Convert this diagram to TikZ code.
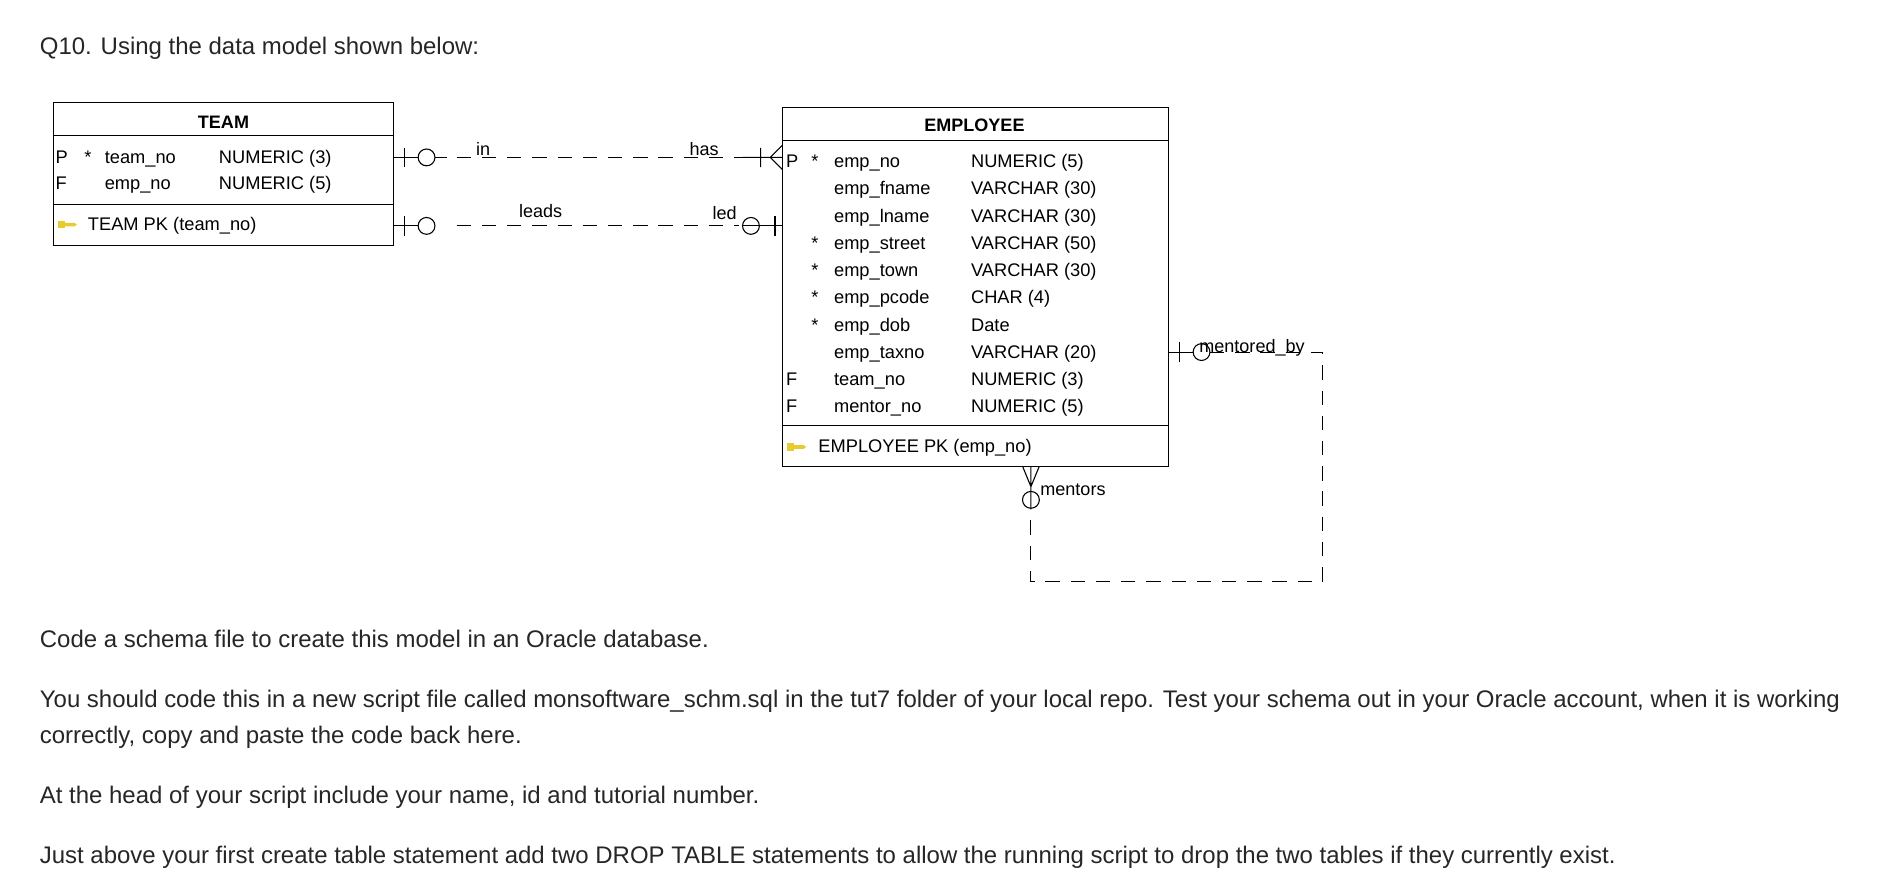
\documentclass[tikz,border=0pt]{standalone}
\usepackage{fontspec}
\setmainfont{Liberation Sans}
\begin{document}
\begin{tikzpicture}[x=1pt,y=-1pt,
  every node/.style={inner sep=0pt},
  body/.style={anchor=base west,font=\fontsize{19.95}{22}\selectfont,text=black!85},
  cell/.style={anchor=base west,font=\fontsize{15.2}{18}\selectfont},
  head/.style={anchor=center,font=\bfseries\fontsize{15}{18}\selectfont},
  tbl/.style={draw,line width=1pt},
  rel/.style={line width=0.9pt,dash pattern=on 12pt off 9pt},
  sym/.style={line width=0.9pt},
  lbl/.style={font=\fontsize{15}{18}\selectfont},
  keyicon/.pic={\fill[yellow!60!brown] (0,-3) rectangle (6,3); \fill[yellow!60!brown] (6,-1.5) -- (14,-1.5) -- (16,0) -- (14,1.5) -- (6,1.5) -- cycle;}
]
\useasboundingbox (0,0) rectangle (1568,739);
\node[body] (q) at (33,45) {Q10. Using the data model shown below:};
% TEAM
\node[tbl,minimum width=283pt,minimum height=119pt,anchor=north west] (team) at (44,85) {};
\draw[line width=1pt] (44,113) -- (327,113) (44,170) -- (327,170);
\node[head] (teamh) at (186,102) {TEAM};
\foreach \y/\k/\s/\n/\t in {131/P/*/team\_no/NUMERIC (3),153/F//emp\_no/NUMERIC (5)}{
  \node[cell] at (46,\y+5) {\k}; \node[cell] at (70,\y+5) {\s};
  \node[cell] at (87,\y+5) {\n}; \node[cell] at (182,\y+5) {\t};}
\pic at (48,187) {keyicon};
\node[cell] (teampk) at (73,192) {TEAM PK (team\_no)};
% EMPLOYEE
\node[tbl,minimum width=321pt,minimum height=299pt,anchor=north west] (emp) at (651,89) {};
\draw[line width=1pt] (651,117) -- (972,117) (651,354) -- (972,354);
\node[head] (emph) at (811,104) {EMPLOYEE};
\foreach \y/\k/\s/\n/\t in {134/P/*/emp\_no/NUMERIC (5),157///emp\_fname/VARCHAR (30),180///emp\_lname/VARCHAR (30),203//*/emp\_street/VARCHAR (50),225//*/emp\_town/VARCHAR (30),248//*/emp\_pcode/CHAR (4),271//*/emp\_dob/Date,293///emp\_taxno/VARCHAR (20),316/F//team\_no/NUMERIC (3),338/F//mentor\_no/NUMERIC (5)}{
  \node[cell] at (654,\y+5) {\k}; \node[cell] at (675,\y+5) {\s};
  \node[cell] at (694,\y+5) {\n}; \node[cell] at (808,\y+5) {\t};}
\pic at (655,372) {keyicon};
\node[cell] (emppk) at (681,377) {EMPLOYEE PK (emp\_no)};
% in / has
\coordinate (a1) at (327,131); \coordinate (b1) at (651,131);
\draw[sym] (a1) -- (348,131) (337,123) -- (337,139);
\draw[sym] (355,131) circle (7);
\draw[sym] (362,131) -- (372,131);
\draw[rel] (380,131) -- (630,131);
\draw[sym] (618,131) -- (651,131) (633,123) -- (633,139) (651,121) -- (641,131) -- (651,141);
\node[lbl,anchor=base] at (402,129) {in};
\node[lbl,anchor=base] at (586,129) {has};
% leads / led
\coordinate (a2) at (327,188);
\draw[sym] (a2) -- (348,188) (337,180) -- (337,196);
\draw[sym] (355,188) circle (7);
\draw[rel] (380,188) -- (615,188);
\draw[sym] (625,188) circle (7);
\draw[sym] (618,188) -- (651,188) (645,180) -- (645,196);
\node[lbl,anchor=base] at (450,181) {leads};
\node[lbl,anchor=base] at (603,183) {led};
% mentored_by / mentors
\draw[sym] (972,293) -- (993,293) (982,285) -- (982,301);
\draw[sym] (1000,293) circle (7);
\draw[rel] (1007,293) -- (1101,293) -- (1101,484) -- (858,484) -- (858,430);
\draw[sym] (851,388) -- (858,405) -- (865,388) (858,388) -- (858,424);
\draw[sym] (858,416) circle (7);
\node[lbl,anchor=base] at (1042,293) {mentored\_by};
\node[lbl,anchor=base] at (893,412) {mentors};
% body text
\node[body] at (33,539) {Code a schema file to create this model in an Oracle database.};
\node[body] at (33,589) {You should code this in a new script file called monsoftware\_schm.sql in the tut7 folder of your local repo. Test your schema out in your Oracle account, when it is working};
\node[body] at (33,619) {correctly, copy and paste the code back here.};
\node[body] at (33,669) {At the head of your script include your name, id and tutorial number.};
\node[body] at (33,719) {Just above your first create table statement add two DROP TABLE statements to allow the running script to drop the two tables if they currently exist.};
\end{tikzpicture}
\end{document}
